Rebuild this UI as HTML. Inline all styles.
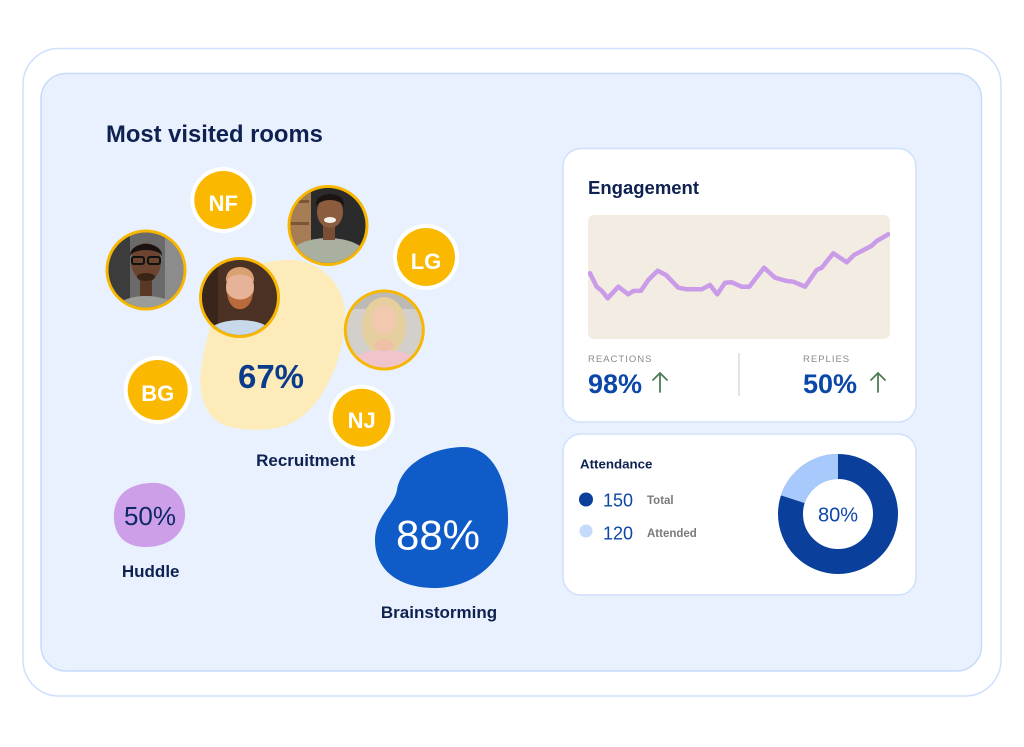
<!DOCTYPE html>
<html>
<head>
<meta charset="utf-8">
<style>
  html,body{margin:0;padding:0;background:#ffffff;}
  body{width:1024px;height:747px;overflow:hidden;}
  svg{display:block;}
  text{font-family:"Liberation Sans", Arial, sans-serif;}
</style>
</head>
<body>
<svg width="1024" height="747" viewBox="0 0 1024 747" xmlns="http://www.w3.org/2000/svg">
  <defs>
    <clipPath id="c1"><circle cx="146" cy="270" r="37.5"/></clipPath>
    <clipPath id="c2"><circle cx="328" cy="225.5" r="37.5"/></clipPath>
    <clipPath id="c3"><circle cx="239.5" cy="297.5" r="37.5"/></clipPath>
    <clipPath id="c4"><circle cx="384.3" cy="330" r="37.5"/></clipPath>
    <clipPath id="chartclip"><rect x="588" y="215" width="302" height="124" rx="6"/></clipPath>
  </defs>

  <!-- outer frame -->
  <rect x="23" y="48.5" width="978" height="647.5" rx="36" fill="#ffffff" stroke="#cfe0fc" stroke-width="1.5"/>
  <!-- inner panel -->
  <rect x="41" y="73.5" width="940.5" height="597.5" rx="25" fill="#e8f1fd" stroke="#c6dbfb" stroke-width="1.5"/>

  <!-- Title -->
  <text x="106" y="142" font-size="23.8" font-weight="bold" fill="#0e2150">Most visited rooms</text>

  <!-- yellow blob -->
  <path d="M 285 260 C 320 258, 346 285, 345 317 C 344 352, 330 392, 305 414 C 285 432, 255 432, 230 427 C 205 420, 198 395, 201 370 C 205 340, 215 300, 240 275 C 255 263, 270 261, 285 260 Z" fill="#fdebb9"/>

  <!-- Photo 1: glasses man -->
  <circle cx="146" cy="270" r="40.5" fill="#f7b600"/>
  <g clip-path="url(#c1)">
    <rect x="100" y="225" width="95" height="95" fill="#6a6a6a"/>
    <rect x="100" y="225" width="30" height="95" fill="#3c3c3c"/>
    <rect x="165" y="225" width="30" height="95" fill="#8c8c8c"/>
    <ellipse cx="146" cy="318" rx="38" ry="22" fill="#9b9d98"/>
    <rect x="140" y="278" width="12" height="18" fill="#5a3826"/>
    <ellipse cx="146" cy="262" rx="15" ry="19" fill="#6b4530"/>
    <path d="M 130 256 C 130 240, 162 240, 162 256 C 158 248, 134 248, 130 256 Z" fill="#1a1210"/>
    <rect x="132" y="257" width="12" height="7" rx="2" fill="none" stroke="#111" stroke-width="2"/>
    <rect x="148" y="257" width="12" height="7" rx="2" fill="none" stroke="#111" stroke-width="2"/>
    <ellipse cx="146" cy="277" rx="9" ry="4" fill="#3a2418"/>
  </g>

  <!-- Photo 2: smiling young man -->
  <circle cx="328" cy="225.5" r="40.5" fill="#f7b600"/>
  <g clip-path="url(#c2)">
    <rect x="285" y="183" width="90" height="90" fill="#2b2b2b"/>
    <rect x="285" y="183" width="26" height="90" fill="#a77d55"/>
    <rect x="289" y="200" width="20" height="3" fill="#7a5636"/>
    <rect x="289" y="222" width="20" height="3" fill="#7a5636"/>
    <ellipse cx="328" cy="258" rx="40" ry="20" fill="#a9b0a0"/>
    <rect x="323" y="224" width="12" height="16" fill="#7a4e34"/>
    <ellipse cx="330" cy="212" rx="13" ry="16" fill="#8c5c3e"/>
    <path d="M 316 206 C 314 190, 346 190, 344 206 C 338 198, 322 198, 316 206 Z" fill="#1b1410"/>
    <ellipse cx="330" cy="220" rx="6" ry="3" fill="#f4f0ea"/>
  </g>

  <!-- Photo 3: red beard -->
  <circle cx="239.5" cy="297.5" r="40.5" fill="#f7b600"/>
  <g clip-path="url(#c3)">
    <rect x="198" y="256" width="84" height="84" fill="#4a3124"/>
    <rect x="198" y="256" width="20" height="84" fill="#3a251b"/>
    <ellipse cx="240" cy="338" rx="36" ry="18" fill="#c9d9ec"/>
    <ellipse cx="240" cy="287" rx="14" ry="17" fill="#e6b398"/>
    <path d="M 226 282 C 224 262, 256 262, 254 282 C 250 272, 230 272, 226 282 Z" fill="#d9a172"/>
    <path d="M 227 292 C 228 315, 252 315, 253 292 C 248 302, 232 302, 227 292 Z" fill="#b86a3c"/>
  </g>

  <!-- Photo 4: blonde woman -->
  <circle cx="384.3" cy="330" r="40.5" fill="#f7b600"/>
  <g clip-path="url(#c4)">
    <rect x="343" y="289" width="84" height="84" fill="#d3cfcb"/>
    <rect x="343" y="289" width="84" height="20" fill="#bdb9b5"/>
    <ellipse cx="384" cy="326" rx="22" ry="29" fill="#e6cf9e"/>
    <ellipse cx="384" cy="367" rx="36" ry="17" fill="#f1c3cb"/>
    <ellipse cx="384" cy="320" rx="12" ry="15" fill="#f1c9b1"/>
    <ellipse cx="384" cy="345" rx="10" ry="6" fill="#eec0a8"/>
  </g>

  <!-- Initial badges -->
  <circle cx="223.3" cy="200" r="33" fill="#ffffff"/>
  <circle cx="223.3" cy="200" r="29" fill="#fbb800"/>
  <text x="223.3" y="211" font-size="22" font-weight="bold" text-anchor="middle" fill="#ffffff">NF</text>

  <circle cx="426" cy="257" r="33" fill="#ffffff"/>
  <circle cx="426" cy="257" r="29" fill="#fbb800"/>
  <text x="426" y="269" font-size="22" font-weight="bold" text-anchor="middle" fill="#ffffff">LG</text>

  <circle cx="157.7" cy="390" r="34" fill="#ffffff"/>
  <circle cx="157.7" cy="390" r="30" fill="#fbb800"/>
  <text x="157.7" y="401" font-size="22" font-weight="bold" text-anchor="middle" fill="#ffffff">BG</text>

  <circle cx="361.7" cy="417.7" r="33" fill="#ffffff"/>
  <circle cx="361.7" cy="417.7" r="29" fill="#fbb800"/>
  <text x="361.7" y="428" font-size="22" font-weight="bold" text-anchor="middle" fill="#ffffff">NJ</text>

  <text x="271" y="388" font-size="33" font-weight="bold" text-anchor="middle" fill="#0b3b8c">67%</text>
  <text x="305.7" y="466" font-size="17" font-weight="bold" text-anchor="middle" fill="#0e2150">Recruitment</text>

  <!-- Huddle -->
  <path d="M 150 483 C 172 481, 186 498, 185 516 C 184 536, 166 548, 143 547 C 124 546, 113 534, 114 514 C 115 494, 130 484, 150 483 Z" fill="#cd9fe9"/>
  <text x="150" y="525" font-size="26" text-anchor="middle" fill="#0e2a66">50%</text>
  <text x="150.7" y="577" font-size="17" font-weight="bold" text-anchor="middle" fill="#0e2150">Huddle</text>

  <!-- Brainstorming -->
  <path d="M 462 447 C 492 446, 509 480, 508 522 C 507 562, 472 589, 432 588 C 398 587, 375 570, 375 540 C 375 516, 394 506, 397 490 C 401 465, 430 448, 462 447 Z" fill="#0f5bc7"/>
  <text x="438" y="549.5" font-size="42" text-anchor="middle" fill="#ffffff">88%</text>
  <text x="439" y="618" font-size="17" font-weight="bold" text-anchor="middle" fill="#0e2150">Brainstorming</text>

  <!-- Engagement card -->
  <rect x="563" y="148.5" width="353" height="273.5" rx="18" fill="#ffffff" stroke="#cfe0fc" stroke-width="1.5"/>
  <text x="588" y="194" font-size="18.5" font-weight="bold" fill="#0e2150">Engagement</text>
  <rect x="588" y="215" width="302" height="124" rx="6" fill="#f3ece2"/>
  <g clip-path="url(#chartclip)">
    <polyline fill="none" stroke="#c99be8" stroke-width="4.5" stroke-linejoin="round" stroke-linecap="round"
      points="590,273.3 596.7,286.7 601.7,290.7 607.7,298.3 618.3,286.7 628.3,294.3 633.3,291 641,290.7 648.3,280 657.7,270.7 666,275 678.3,287.7 686.7,289.3 701.7,289.3 710,285 717.3,294.3 725,282.7 731.7,282.3 741.7,286.7 749.3,286.7 764,267.7 775,277.7 786.7,281 793.3,281.7 805,286.7 816.7,270 821.7,267.7 833.3,253.3 846.7,262.3 854,255 861.7,251 871.7,245.7 876.7,241 888.3,234.3"/>
  </g>
  <text x="588" y="362" font-size="9.5" letter-spacing="1" fill="#8a8a8a">REACTIONS</text>
  <text x="588" y="393" font-size="27" font-weight="bold" fill="#0b47a8">98%</text>
  <g stroke="#4d7d55" stroke-width="1.8" fill="none" stroke-linecap="round" stroke-linejoin="round">
    <line x1="660" y1="373" x2="660" y2="392"/>
    <polyline points="653,380 660,373 667,380"/>
    <line x1="878" y1="373" x2="878" y2="392"/>
    <polyline points="871,380 878,373 885,380"/>
  </g>
  <line x1="739" y1="353" x2="739" y2="396" stroke="#dcdcd6" stroke-width="1.5"/>
  <text x="803" y="362" font-size="9.5" letter-spacing="1" fill="#8a8a8a">REPLIES</text>
  <text x="803" y="393" font-size="27" font-weight="bold" fill="#0b47a8">50%</text>

  <!-- Attendance card -->
  <rect x="563" y="434" width="353" height="161" rx="18" fill="#ffffff" stroke="#cfe0fc" stroke-width="1.5"/>
  <text x="580" y="468.5" font-size="13.3" font-weight="bold" fill="#0e2150">Attendance</text>
  <circle cx="586" cy="499.5" r="7" fill="#0a3f9b"/>
  <text x="603" y="506.5" font-size="18" fill="#0b47a8">150</text>
  <text x="647" y="504" font-size="11.5" font-weight="bold" fill="#7a7a7a">Total</text>
  <circle cx="586" cy="531" r="6.5" fill="#c5dbfb"/>
  <text x="603" y="539.5" font-size="18" fill="#0b47a8">120</text>
  <text x="647" y="537" font-size="11.5" font-weight="bold" fill="#7a7a7a">Attended</text>

  <!-- donut -->
  <circle cx="838" cy="514" r="47.5" fill="none" stroke="#0a3f9b" stroke-width="25"/>
  <path d="M 792.8 499.3 A 47.5 47.5 0 0 1 838 466.5" fill="none" stroke="#a8c9fb" stroke-width="25"/>
  <text x="838" y="521.5" font-size="20" text-anchor="middle" fill="#0b47a8">80%</text>
</svg>
</body>
</html>
